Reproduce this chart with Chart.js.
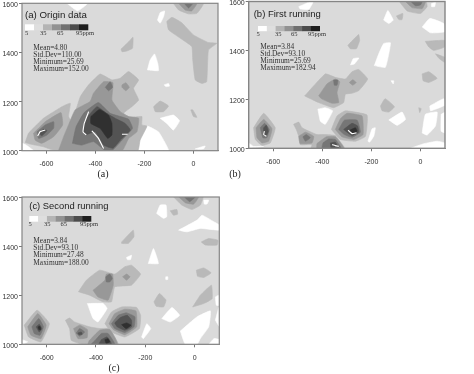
<!DOCTYPE html>
<html><head><meta charset="utf-8">
<script src="https://cdn.jsdelivr.net/npm/chart.js@4"></script>
<style>
html,body{margin:0;padding:0;background:#fff;width:474px;height:374px;overflow:hidden}
canvas{position:absolute;filter:blur(0.45px)}
</style></head><body>
<canvas id="ca" style="left:0;top:0"></canvas>
<canvas id="cb" style="left:226px;top:0"></canvas>
<canvas id="cc" style="left:0;top:187px"></canvas>
<script>
// ---- axis ticks and labels
const xTicks=[-600,-400,-200,0];
const yTicks=[1000,1200,1400,1600];
const legendLabels=['5','35','65','95ppm'];
const legendColors=['#ffffff','#dedede','#b4b4b4','#929292','#707070','#4c4c4c','#1e1e1e'];
const bandColors=['#ffffff','#b9b9b9','#989898','#767676','#535353','#303030'];
const statNames=['Mean','Std.Dev','Minimum','Maximum'];

// ---- panel (a): contour outlines in axis units, level 0 = below 5 ppm
const aStats=['4.80','110.00','25.69','152.00'];
const aLevel0=[
[[-517,1600],[-432,1600],[-473,1569]],
[[-147,1532],[-136,1562],[-118,1569],[-122,1546],[-136,1519]],
[[-188,1329],[-177,1369],[-159,1394],[-146,1356],[-143,1326]],
[[-120,1268],[-102,1274],[-98,1263],[-113,1261]],
[[-136,1132],[-82,1145],[-57,1122],[-82,1084],[-109,1111]],
[[-224,1000],[-218,1043],[-190,1100],[-143,1077],[-122,1043],[-102,1000]],
[[-699,1030],[-683,1023],[-653,1000],[-699,1000]],
[[34,1016],[48,1019],[41,1007],[7,1007]]];
const aLevel1=[
[[-82,1600],[-61,1573],[-20,1557],[14,1559],[41,1600]],
[[-109,1526],[-88,1543],[-48,1521],[0,1471],[61,1440],[95,1437],[61,1410],[54,1281],[34,1274],[7,1288],[-3,1369],[-7,1424],[-54,1458],[-102,1492]],
[[-296,1413],[-265,1443],[-247,1462],[-249,1417],[-272,1406],[-292,1403]],
[[-163,1179],[-136,1202],[-102,1182],[-122,1159],[-156,1159]],
[[-11,1166],[-3,1166],[14,1136],[0,1139]],
[[-687,1033],[-673,1071],[-612,1132],[-537,1179],[-503,1193],[-510,1139],[-496,1118],[-462,1220],[-428,1268],[-381,1312],[-333,1288],[-299,1295],[-265,1322],[-224,1288],[-245,1254],[-224,1206],[-252,1179],[-286,1152],[-258,1136],[-211,1139],[-211,1105],[-190,1100],[-218,1043],[-228,1000],[-564,1000],[-612,1016],[-666,1027]]];
const aLevel2=[
[[-61,1600],[-34,1573],[-7,1569],[14,1600]],
[[-653,1071],[-605,1118],[-541,1155],[-534,1105],[-571,1057],[-619,1030],[-646,1043]],
[[-551,1000],[-530,1057],[-510,1105],[-483,1166],[-422,1200],[-408,1234],[-367,1281],[-329,1277],[-333,1206],[-299,1159],[-265,1139],[-224,1132],[-231,1077],[-265,1050],[-292,1000]],
[[-292,1268],[-276,1277],[-262,1258],[-276,1244],[-292,1258]]];
const aLevel3=[
[[-38,1600],[-20,1581],[-3,1600]],
[[-639,1077],[-605,1105],[-571,1118],[-571,1091],[-598,1064],[-632,1050]],
[[-360,1258],[-340,1281],[-330,1258],[-347,1244]],
[[-494,1030],[-479,1098],[-446,1155],[-388,1196],[-340,1152],[-265,1128],[-249,1091],[-292,1043],[-333,1000],[-360,1000],[-408,1037],[-456,1023]]];
const aLevel4=[
[[-632,1071],[-612,1087],[-598,1082],[-619,1061]],
[[-449,1077],[-442,1125],[-394,1179],[-354,1152],[-320,1132],[-279,1111],[-258,1084],[-299,1043],[-329,1010],[-367,1023],[-401,1077],[-442,1064]]];
const aLevel5=[
[[-419,1139],[-384,1168],[-347,1145],[-333,1111],[-333,1064],[-350,1050],[-381,1091],[-419,1111]]];
const aStrokes=[
[[-428,1159],[-446,1111],[-451,1077],[-438,1064]],
[[-415,1081],[-388,1050],[-367,1009]],
[[-292,1067],[-269,1067]],
[[-636,1060],[-626,1077],[-605,1084]]];

// ---- panel (b)
const bStats=['3.84','93.10','25.69','182.94'];
const bLevel0=[
[[-496,1579],[-455,1597],[-438,1597],[-455,1568],[-490,1569]],
[[-150,1524],[-133,1563],[-111,1524],[-129,1510]],
[[45,1592],[61,1597],[58,1579],[45,1579]],
[[7,1496],[38,1531],[95,1510],[98,1476],[41,1472]],
[[-188,1338],[-170,1386],[-150,1428],[-122,1431],[-143,1331]],
[[-285,1341],[-274,1366],[-251,1369],[-269,1345]],
[[-120,1276],[-109,1276],[-111,1263]],
[[-418,1160],[-388,1166],[-358,1153],[-388,1098],[-408,1111]],
[[-129,1116],[-75,1148],[-61,1118],[-95,1094]],
[[38,1173],[95,1203],[99,1176],[41,1153]],
[[7,1063],[20,1139],[68,1148],[61,1091],[27,1054]],
[[84,1139],[98,1146],[99,1063],[84,1070]],
[[-214,1029],[-197,1080],[-184,1084],[-190,1050],[-207,1025]],
[[-41,1000],[14,1019],[68,1029],[98,1022],[98,1000]],
[[-700,1022],[-680,1008],[-639,1008],[-700,1000]]];
const bLevel1=[
[[-84,1597],[-54,1561],[0,1551],[27,1579],[20,1611]],
[[-98,1541],[-72,1551],[-75,1526],[-88,1526]],
[[-296,1421],[-252,1465],[-248,1441],[-261,1407],[-286,1407]],
[[20,1437],[98,1441],[98,1414],[54,1400],[34,1414]],
[[61,1386],[98,1372],[98,1352],[75,1368]],
[[7,1304],[34,1313],[68,1286],[34,1269],[11,1276]],
[[-163,1173],[-144,1203],[-106,1170],[-129,1148],[-156,1153]],
[[-7,1166],[3,1162],[-3,1146]],
[[-472,1214],[-388,1304],[-347,1290],[-306,1283],[-279,1313],[-252,1322],[-215,1283],[-252,1235],[-279,1225],[-306,1221],[-313,1187],[-354,1166],[-415,1187]],
[[-680,1084],[-639,1143],[-592,1084],[-612,1022],[-646,1012],[-673,1036]],
[[-517,1098],[-496,1107],[-483,1084],[-422,1056],[-392,1056],[-347,1052],[-313,1008],[-310,1000],[-446,1000],[-442,1015],[-490,1015],[-496,1049],[-506,1077]],
[[-363,1077],[-340,1132],[-306,1153],[-218,1136],[-224,1049],[-265,1029],[-326,1036]]];
const bLevel2=[
[[-61,1600],[-34,1575],[7,1571],[20,1600]],
[[-415,1214],[-381,1263],[-347,1283],[-329,1272],[-340,1228],[-333,1187],[-360,1184],[-401,1201]],
[[-290,1269],[-276,1280],[-262,1269],[-276,1258]],
[[-670,1084],[-639,1118],[-605,1080],[-619,1029],[-646,1022],[-666,1043]],
[[-496,1049],[-469,1066],[-435,1049],[-442,1022],[-490,1019]],
[[-422,1019],[-384,1047],[-347,1047],[-313,1001],[-422,1000]],
[[-347,1077],[-326,1121],[-299,1143],[-238,1132],[-234,1056],[-272,1036],[-320,1047]]];
const bLevel3=[
[[-41,1602],[-20,1583],[0,1586],[7,1602]],
[[-354,1279],[-337,1279],[-340,1258],[-351,1258]],
[[-653,1084],[-635,1102],[-616,1077],[-626,1043],[-642,1043]],
[[-479,1047],[-465,1056],[-449,1043],[-469,1029]],
[[-397,1022],[-374,1038],[-347,1036],[-324,1000],[-401,1000]],
[[-333,1077],[-310,1115],[-258,1115],[-245,1066],[-279,1045],[-310,1056]]];
const bLevel4=[
[[-639,1084],[-628,1094],[-620,1070],[-628,1052],[-639,1056]],
[[-367,1022],[-347,1025],[-333,1000],[-364,1000]],
[[-313,1077],[-279,1102],[-256,1091],[-252,1066],[-279,1052]]];
const bLevel5=[
[[-288,1074],[-265,1084],[-258,1070],[-279,1063]]];
const bStrokes=[
[[-636,1070],[-639,1056],[-628,1049]],
[[-360,1015],[-347,1011],[-333,1008]],
[[-295,1074],[-279,1060],[-261,1063]]];

// ---- panel (c)
const cStats=['3.84','93.10','27.48','188.00'];
const cLevel0=[
[[-154,1533],[-140,1567],[-116,1567],[-113,1520],[-126,1513]],
[[37,1587],[57,1587],[50,1571],[39,1571]],
[[-65,1465],[10,1506],[30,1526],[78,1499],[102,1485],[102,1465],[23,1472],[-31,1458]],
[[-188,1329],[-167,1390],[-147,1329]],
[[-276,1354],[-256,1363],[-260,1345],[-273,1345]],
[[-117,1275],[-109,1275],[-109,1264],[-117,1264]],
[[-435,1166],[-371,1166],[-355,1146],[-392,1091],[-412,1105]],
[[-133,1105],[-92,1150],[-61,1118],[-99,1091]],
[[-58,1054],[10,1112],[64,1136],[57,1071],[23,1023],[10,1000],[-38,1000]],
[[84,1098],[98,1150],[102,1150],[102,1071]],
[[84,1193],[98,1200],[102,1159],[88,1159]],
[[-215,1030],[-194,1084],[-178,1064],[-208,1023]],
[[57,1000],[78,1023],[102,1019],[102,1000]],
[[-700,1019],[-677,1010],[-700,1000]]];
const cLevel1=[
[[-86,1601],[-52,1567],[-11,1549],[23,1567],[34,1601]],
[[-99,1544],[-72,1549],[-69,1530],[-86,1526]],
[[-296,1417],[-249,1465],[-246,1438],[-269,1411],[-296,1411]],
[[27,1417],[57,1431],[94,1424],[91,1404],[44,1404]],
[[7,1302],[37,1311],[67,1291],[37,1272],[12,1277]],
[[-8,1152],[23,1200],[68,1241],[71,1186],[37,1166]],
[[-165,1173],[-143,1207],[-116,1180],[-126,1152],[-156,1155]],
[[-471,1214],[-439,1261],[-385,1302],[-324,1286],[-283,1316],[-256,1322],[-219,1286],[-256,1241],[-324,1234],[-337,1173],[-371,1173],[-426,1200]],
[[-691,1078],[-639,1139],[-589,1084],[-623,1010],[-673,1030]],
[[-524,1098],[-507,1107],[-487,1091],[-426,1071],[-385,1064],[-344,1064],[-310,1003],[-310,1000],[-453,1000],[-500,1016],[-507,1064]],
[[-364,1084],[-337,1132],[-296,1152],[-235,1150],[-219,1118],[-224,1064],[-283,1030],[-337,1050]]];
const cLevel2=[
[[-65,1601],[-38,1577],[-4,1571],[16,1601]],
[[-412,1220],[-364,1261],[-358,1286],[-333,1286],[-330,1241],[-351,1180],[-392,1193]],
[[-292,1275],[-276,1286],[-262,1275],[-276,1261]],
[[-677,1071],[-636,1125],[-602,1078],[-623,1023],[-664,1037]],
[[-491,1064],[-466,1078],[-435,1060],[-436,1027],[-473,1023]],
[[-428,1014],[-385,1057],[-344,1060],[-314,1003],[-432,1000]],
[[-347,1084],[-324,1125],[-283,1143],[-238,1136],[-235,1071],[-283,1039],[-330,1060]]];
const cLevel3=[
[[-42,1601],[-20,1581],[3,1601]],
[[-360,1275],[-344,1286],[-334,1268],[-344,1254],[-358,1254]],
[[-660,1071],[-632,1105],[-613,1071],[-627,1037],[-650,1044]],
[[-480,1046],[-466,1064],[-446,1050],[-466,1033]],
[[-405,1014],[-378,1044],[-351,1044],[-324,1000],[-419,1000]],
[[-337,1084],[-310,1118],[-276,1128],[-242,1112],[-246,1071],[-283,1048],[-324,1064]]];
const cLevel4=[
[[-643,1071],[-630,1082],[-620,1064],[-630,1050]],
[[-473,1046],[-460,1050],[-456,1041],[-469,1039]],
[[-378,1019],[-355,1030],[-337,1000],[-388,1000]],
[[-324,1087],[-301,1109],[-273,1118],[-256,1098],[-256,1071],[-283,1057],[-314,1071]]];
const cLevel5=[
[[-635,1071],[-627,1073],[-624,1060],[-632,1060]],
[[-364,1019],[-351,1023],[-344,1010],[-358,1003]],
[[-296,1080],[-276,1087],[-258,1078],[-278,1064]]];
const cStrokes=[];

// ---- drawing
function buildDatasets(levels,strokes){
  const ds=[];
  levels.forEach((polys,lv)=>polys.forEach(p=>{
    const pts=p.concat([p[0]]).map(q=>({x:q[0],y:q[1]}));
    ds.push({data:pts,showLine:true,fill:'shape',backgroundColor:bandColors[lv],borderColor:bandColors[lv],borderWidth:0.6,pointRadius:0,tension:0.12});
  }));
  strokes.forEach(p=>{
    ds.push({data:p.map(q=>({x:q[0],y:q[1]})),showLine:true,fill:false,borderColor:'#ffffff',borderWidth:1.1,pointRadius:0,tension:0.1});
  });
  ds.forEach((d,i)=>d.order=ds.length-i);
  return ds;
}
function makePanel(id,c){
  const el=document.getElementById(id);
  el.width=c.w;el.height=c.h;
  const deco={
    id:'deco',
    beforeDatasetsDraw(ch){
      const a=ch.chartArea,g=ch.ctx;
      g.save();g.fillStyle='#dadada';g.fillRect(a.left,a.top,a.right-a.left,a.bottom-a.top);g.restore();
    },
    afterDatasetsDraw(ch){
      const a=ch.chartArea,g=ch.ctx;
      g.save();g.strokeStyle='#858585';g.lineWidth=c.frame||1.2;
      g.strokeRect(a.left,a.top,a.right-a.left,a.bottom-a.top);g.restore();
    },
    afterDraw(ch){
      const g=ch.ctx;g.save();g.textBaseline='middle';g.textAlign='left';
      g.fillStyle='#222';g.font=c.titleSize+'px "Liberation Sans"';
      g.fillText(c.title,c.titleX,c.titleY);
      const cw=(c.legR-c.legX)/legendColors.length;
      legendColors.forEach((col,i)=>{g.fillStyle=col;g.fillRect(c.legX+i*cw,c.legY,cw+0.3,c.legH);});
      g.fillStyle='#333';g.font='6.5px "Liberation Serif"';
      legendLabels.forEach((t,i)=>g.fillText(t,c.legLabX[i],c.legLabY));
      g.font='7.4px "Liberation Serif"';
      statNames.forEach((n,i)=>g.fillText(n+'='+c.stats[i],c.statX,c.statY[i]));
      g.fillStyle='#222';g.font='10px "Liberation Serif"';
      g.textAlign='center';g.fillText(c.caption,c.capX,c.capY);
      g.restore();
    }
  };
  const tickStyle={color:'#333',font:{family:'"Liberation Sans"',size:7},callback:v=>String(v)};
  new Chart(el,{
    type:'scatter',
    data:{datasets:buildDatasets(c.levels,c.strokes)},
    plugins:[deco],
    options:{
      responsive:false,animation:false,devicePixelRatio:1,events:[],
      layout:{padding:{left:0,top:c.top,right:c.w-c.right,bottom:0}},
      plugins:{legend:{display:false},tooltip:{enabled:false},title:{display:false}},
      scales:{
        x:{type:'linear',min:-700,max:100,
          afterBuildTicks(s){s.ticks=xTicks.map(v=>({value:v}));},
          afterFit(s){s.height=c.h-c.bottom;s.paddingLeft=0;s.paddingRight=0;},
          border:{color:'#858585'},
          grid:{drawOnChartArea:false,drawTicks:true,tickLength:3,color:'#777'},
          ticks:{...tickStyle,maxRotation:0,autoSkip:false,padding:c.xPad}},
        y:{type:'linear',min:1000,max:1600,
          afterBuildTicks(s){s.ticks=yTicks.map(v=>({value:v}));},
          afterFit(s){s.width=c.left;s.paddingTop=0;s.paddingBottom=0;},
          border:{color:'#858585'},
          grid:{drawOnChartArea:false,drawTicks:true,tickLength:3,color:'#777'},
          ticks:{...tickStyle,autoSkip:false,padding:1,labelOffset:2}}
      }
    }
  });
}
makePanel('ca',{w:226,h:187,left:22,right:218,top:3.3,bottom:150.7,xPad:6,
  levels:[aLevel0,aLevel1,aLevel2,aLevel3,aLevel4,aLevel5],strokes:aStrokes,stats:aStats,
  title:'(a) Origin data',titleSize:9.7,titleX:25,titleY:15,legX:25,legR:88,legY:24.3,legH:6,legLabX:[25,40,57,76],legLabY:33.5,
  statX:33.3,statY:[48.3,55.3,62.3,69.3],caption:'(a)',capX:103,capY:174});
makePanel('cb',{w:248,h:187,left:22.7,right:219,top:1.5,bottom:148.3,xPad:7,frame:1.4,
  levels:[bLevel0,bLevel1,bLevel2,bLevel3,bLevel4,bLevel5],strokes:bStrokes,stats:bStats,
  title:'(b) First running',titleSize:9.5,titleX:27.7,titleY:14,legX:32,legR:93.7,legY:26,legH:5.2,legLabX:[30.5,49,65,82],legLabY:34.5,
  statX:34.3,statY:[46.7,54,61.2,68.4],caption:'(b)',capX:9,capY:174});
makePanel('cc',{w:237,h:187,left:22,right:219.3,top:10,bottom:157.3,xPad:7,
  levels:[cLevel0,cLevel1,cLevel2,cLevel3,cLevel4,cLevel5],strokes:cStrokes,stats:cStats,
  title:'(c) Second running',titleSize:9.4,titleX:29.3,titleY:19.3,legX:29.3,legR:91,legY:29,legH:5.7,legLabX:[28.5,44,60.5,80],legLabY:37.7,
  statX:33.3,statY:[53.7,61,68.3,76],caption:'(c)',capX:114,capY:181.7});
</script>
</body></html>
